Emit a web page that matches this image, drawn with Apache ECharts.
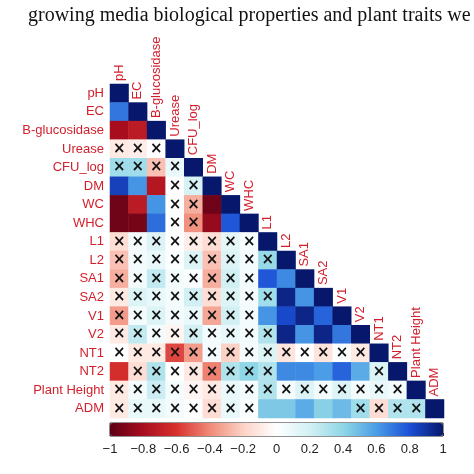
<!DOCTYPE html>
<html>
<head>
<meta charset="utf-8">
<script src="https://cdn.jsdelivr.net/npm/echarts@6/dist/echarts.min.js"></script>
<style>
  html, body { margin: 0; padding: 0; background: #fff; }
  #chart { width: 474px; height: 474px; }
</style>
</head>
<body>
<div id="chart"></div>
<script>
// variable names (rows top->bottom, columns left->right)
var varNames = ["pH", "EC", "B-glucosidase", "Urease", "CFU_log", "DM", "WC", "WHC",
    "L1", "L2", "SA1", "SA2", "V1", "V2", "NT1", "NT2", "Plant Height", "ADM"];

// lower triangle of the correlation matrix, one array per row
var corrRows = [
    [1],
    [0.7, 1],
    [-0.8, -0.72, 1],
    [-0.1, -0.08, 0.0, 1],
    [0.35, 0.35, -0.25, 0.1, 1],
    [0.85, 0.62, -0.75, 0.0, 0.18, 1],
    [-0.95, -0.72, 0.62, 0.0, -0.3, -0.95, 1],
    [-0.95, -0.93, 0.72, 0.0, -0.38, -0.85, 0.78, 1],
    [-0.15, 0.05, 0.15, 0.0, -0.08, -0.15, 0.12, 0.03, 1],
    [-0.25, 0.05, 0.1, 0.02, 0.15, -0.25, 0.15, 0.05, 0.38, 1],
    [-0.3, 0.05, 0.25, 0.05, 0.02, -0.3, 0.2, 0.05, 0.78, 0.65, 1],
    [-0.1, 0.15, 0.1, 0.05, 0.2, -0.15, 0.15, 0.05, 0.35, 0.95, 0.62, 1],
    [-0.35, 0.05, 0.15, 0.05, 0.1, -0.32, 0.2, 0.05, 0.62, 0.82, 0.95, 0.75, 1],
    [-0.1, 0.25, 0.05, -0.05, 0.2, 0.05, 0.1, 0.05, 0.3, 0.95, 0.62, 0.95, 0.7, 1],
    [0.0, -0.1, -0.1, -0.55, -0.35, 0.05, -0.2, 0.05, 0.15, -0.12, 0.0, -0.12, 0.02, -0.1, 1],
    [-0.62, -0.15, 0.3, 0.0, -0.1, -0.42, 0.3, 0.4, 0.3, 0.65, 0.65, 0.6, 0.75, 0.55, 0.15, 1],
    [-0.1, 0.05, 0.22, 0.05, -0.05, -0.1, 0.1, 0.05, 0.3, 0.05, 0.15, 0.05, 0.15, 0.05, 0.1, 0.05, 1],
    [-0.1, 0.1, 0.1, 0.05, 0.0, -0.15, 0.1, 0.02, 0.45, 0.45, 0.55, 0.42, 0.5, 0.35, -0.15, 0.3, 0.3, 1]
];

// 1 = not significant (drawn with a cross)
var crossRows = [
    [0],
    [0, 0],
    [0, 0, 0],
    [1, 1, 1, 0],
    [1, 1, 1, 1, 0],
    [0, 0, 0, 1, 1, 0],
    [0, 0, 0, 1, 1, 0, 0],
    [0, 0, 0, 1, 1, 0, 0, 0],
    [1, 1, 1, 1, 1, 1, 1, 1, 0],
    [1, 1, 1, 1, 1, 1, 1, 1, 1, 0],
    [1, 1, 1, 1, 1, 1, 1, 1, 0, 0, 0],
    [1, 1, 1, 1, 1, 1, 1, 1, 1, 0, 0, 0],
    [1, 1, 1, 1, 1, 1, 1, 1, 0, 0, 0, 0, 0],
    [1, 1, 1, 1, 1, 1, 1, 1, 1, 0, 0, 0, 0, 0],
    [1, 1, 1, 1, 1, 1, 1, 1, 1, 1, 1, 1, 1, 1, 0],
    [0, 1, 1, 1, 1, 1, 1, 1, 1, 0, 0, 0, 0, 0, 1, 0],
    [1, 1, 1, 1, 1, 1, 1, 1, 1, 1, 1, 1, 1, 1, 1, 1, 0],
    [1, 1, 1, 1, 1, 1, 1, 1, 0, 0, 0, 0, 0, 1, 1, 1, 1, 0]
];

var scaleTicks = [-1, -0.8, -0.6, -0.4, -0.2, 0, 0.2, 0.4, 0.6, 0.8, 1];
var scaleColors = ["#5c0015", "#a80d1e", "#d8312e", "#f08a78", "#fcd2c6", "#ffffff",
    "#d2f0f4", "#8fd6e6", "#4a9de6", "#1b4fd6", "#07176b"];

var labelRed = "#d21f2c";

var cells = [];
corrRows.forEach(function(row, i) {
    row.forEach(function(v, j) {
        cells.push([j, i, v, crossRows[i][j]]);
    });
});
var diag = varNames.map(function(n, i) { return [i, i]; });

var chart = echarts.init(document.getElementById("chart"));
var option = {
    animation: false,
    title: {
        text: "growing media biological properties and plant traits we",
        left: 23,
        top: 1,
        textStyle: { fontFamily: "Liberation Serif", fontWeight: "normal", fontSize: 20, color: "#111" }
    },
    grid: [
        { left: 110, top: 84, width: 334, height: 334 },
        { left: 110, top: 423, width: 333, height: 13, show: true, borderColor: "#222", borderWidth: 1, backgroundColor: "transparent" }
    ],
    xAxis: [{
        type: "category",
        data: varNames,
        gridIndex: 0,
        axisLine: { show: false },
        axisTick: { show: false },
        axisLabel: { show: false },
        splitLine: { show: false }
    }, {
        type: "value",
        gridIndex: 1,
        min: -1,
        max: 1,
        interval: 0.2,
        position: "bottom",
        axisLine: { show: false },
        axisTick: { show: true, inside: true, length: 3, lineStyle: { color: "#222" } },
        splitLine: { show: false },
        axisLabel: {
            margin: 7,
            fontSize: 13,
            fontFamily: "Liberation Sans",
            color: "#222",
            formatter: function(v) {
                var s = String(Math.round(v * 10) / 10);
                return s.replace("-", "\u2212");
            }
        }
    }],
    yAxis: [{
        type: "category",
        data: varNames,
        inverse: true,
        gridIndex: 0,
        axisLine: { show: false },
        axisTick: { show: false },
        splitLine: { show: false },
        axisLabel: { margin: 6, fontSize: 13, fontFamily: "Liberation Sans", color: labelRed }
    }, {
        type: "value",
        gridIndex: 1,
        show: false
    }],
    visualMap: {
        type: "continuous",
        seriesIndex: 0,
        dimension: 2,
        min: -1,
        max: 1,
        orient: "horizontal",
        left: 110,
        top: 423,
        itemWidth: 13,
        itemHeight: 333,
        calculable: false,
        text: null,
        showLabel: false,
        padding: 0,
        inRange: { color: scaleColors }
    },
    series: [{
        type: "heatmap",
        xAxisIndex: 0,
        yAxisIndex: 0,
        data: cells,
        itemStyle: { borderWidth: 0 },
        label: {
            show: true,
            color: "#111",
            fontSize: 15,
            fontWeight: "bold",
            fontFamily: "DejaVu Sans",
            formatter: function(p) { return p.data[3] ? "\u00d7" : ""; }
        }
    }, {
        type: "custom",
        xAxisIndex: 0,
        yAxisIndex: 0,
        clip: false,
        silent: true,
        data: diag,
        renderItem: function(params, api) {
            var p = api.coord([api.value(0), api.value(1)]);
            var s = api.size([1, 1]);
            return {
                type: "text",
                x: p[0],
                y: p[1] - s[1] / 2 - 3,
                rotation: Math.PI / 2,
                style: {
                    text: varNames[api.value(0)],
                    fill: labelRed,
                    font: "13px 'Liberation Sans'",
                    align: "left",
                    verticalAlign: "middle"
                }
            };
        }
    }]
};
chart.setOption(option);
</script>
</body>
</html>
